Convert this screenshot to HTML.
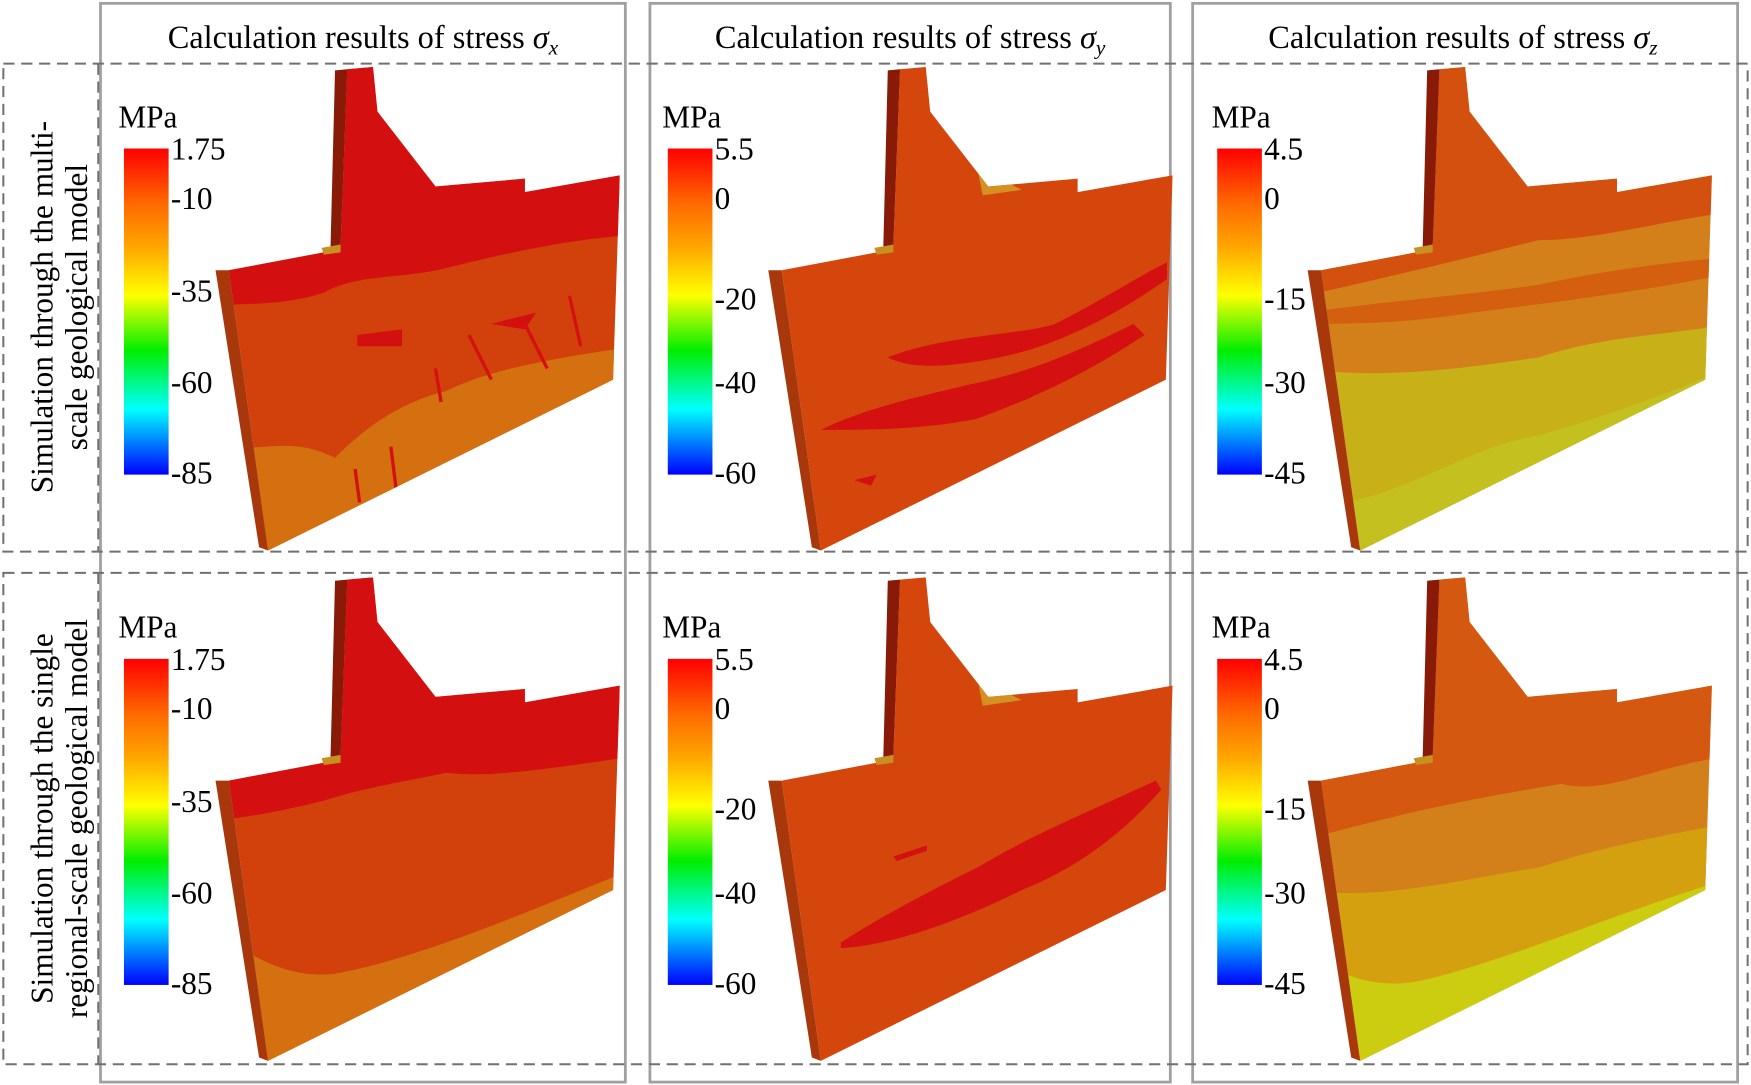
<!DOCTYPE html>
<html><head><meta charset="utf-8"><style>
html,body{margin:0;padding:0;background:#fff}
svg{display:block}
text{font-family:"Liberation Serif",serif;fill:#000}
</style></head><body>
<svg width="1751" height="1085" viewBox="0 0 1568 971.6" xmlns="http://www.w3.org/2000/svg">
<defs>
<linearGradient id="cb" x1="0" y1="0" x2="0" y2="1">
<stop offset="0" stop-color="#ff0000"/><stop offset="0.17" stop-color="#ff6a00"/><stop offset="0.3" stop-color="#ffa500"/>
<stop offset="0.45" stop-color="#ffff00"/><stop offset="0.62" stop-color="#00ee00"/><stop offset="0.8" stop-color="#00ffff"/>
<stop offset="1" stop-color="#0000ff"/></linearGradient>
<clipPath id="sh"><path d="M311,62 L334,60 L338,100 L390,167 L470,160 L470,172 L555,157 L549,340 L240,493 L205,242 L290,226 L305,220 Z"/></clipPath>
<g id="frame">
<path d="M300,63 L311,62 L305,220 L296,221 Z" fill="#8a1a08"/>
<path d="M193,242 L205,242 L240,493 L232,490 Z" fill="#a8380c"/>
<path d="M288,222 L305,219 L305,226 L290,228 Z" fill="#c89020"/>
</g>
<g id="cbar"><rect x="111" y="133" width="40" height="292" fill="url(#cb)"/>
<text x="106" y="114" font-size="28">MPa</text></g>
</defs>
<g fill="none" stroke="#a0a0a0" stroke-width="2.5">
<rect x="90" y="3" width="470" height="966"/>
<rect x="582" y="3" width="466" height="966"/>
<rect x="1068" y="3" width="488" height="966"/>
</g>
<g fill="none" stroke="#707070" stroke-width="1.8" stroke-dasharray="10,6">
<rect x="3" y="57" width="1562" height="437"/>
<rect x="3" y="513" width="1562" height="440"/>
<line x1="88" y1="57" x2="88" y2="494"/><line x1="88" y1="513" x2="88" y2="953"/>
</g>
<g font-size="29" text-anchor="middle">
<text x="325" y="43">Calculation results of stress <tspan font-style="italic">σ</tspan><tspan font-style="italic" font-size="19" dy="6">x</tspan></text>
<text x="815" y="43">Calculation results of stress <tspan font-style="italic">σ</tspan><tspan font-style="italic" font-size="19" dy="6">y</tspan></text>
<text x="1310" y="43">Calculation results of stress <tspan font-style="italic">σ</tspan><tspan font-style="italic" font-size="19" dy="6">z</tspan></text>
</g>
<g font-size="28" text-anchor="middle">
<text transform="translate(47,275) rotate(-90)">Simulation through the multi-</text>
<text transform="translate(78,275) rotate(-90)">scale geological model</text>
<text transform="translate(47,733) rotate(-90)">Simulation through the single</text>
<text transform="translate(78,733) rotate(-90)">regional-scale geological model</text>
</g>

<!-- R1C1 -->
<g>
<g clip-path="url(#sh)">
<rect x="190" y="50" width="380" height="460" fill="#d2400c"/>
<path d="M190,50 L570,50 L570,210 C500,215 440,230 400,240 C360,250 320,245 290,262 C250,275 220,270 190,275 Z" fill="#d40f0f"/>
<path d="M190,400 C240,405 260,390 300,410 C330,380 360,360 400,350 C440,330 500,320 570,310 L570,510 L190,510 Z" fill="#d4700f"/>
<path d="M320,300 L360,295 L360,310 L320,310 Z M440,290 L480,280 L470,295 Z" fill="#d40f0f"/>
<path d="M318,420 L322,450 M350,400 L355,440 M420,300 L440,340 M470,290 L490,330 M510,265 L520,310 M390,330 L395,360" stroke="#d41010" stroke-width="3"/>
</g>
<use href="#frame"/><use href="#cbar"/>
<g font-size="28"><text x="153" y="143">1.75</text><text x="153" y="187">-10</text><text x="153" y="270">-35</text><text x="153" y="352">-60</text><text x="153" y="433">-85</text></g>
</g>

<!-- R1C2 -->
<g transform="translate(495,0)">
<g clip-path="url(#sh)">
<rect x="190" y="50" width="380" height="460" fill="#d4460c"/>
<path d="M380,150 L400,160 L420,170 L385,175 Z" fill="#d49020"/>
<path d="M300,320 C350,300 420,300 450,290 C490,270 520,250 550,235 L550,250 C500,285 450,310 400,320 C350,330 320,330 300,320 Z" fill="#d41010"/>
<path d="M240,385 C280,365 330,355 370,345 C420,335 460,320 520,290 L530,300 C470,340 420,360 380,375 C330,385 280,385 240,385 Z" fill="#d41010"/>
<path d="M330,360 C370,345 410,350 430,340 L430,355 C400,370 360,370 330,360 Z M270,430 L290,425 L285,435 Z" fill="#d41010"/>
</g>
<use href="#frame"/>
</g>
<g transform="translate(487,0)"><use href="#cbar"/>
<g font-size="28"><text x="153" y="143">5.5</text><text x="153" y="187">0</text><text x="153" y="277">-20</text><text x="153" y="352">-40</text><text x="153" y="433">-60</text></g></g>

<!-- R1C3 -->
<g transform="translate(978,0)">
<g clip-path="url(#sh)">
<rect x="190" y="50" width="380" height="460" fill="#d4801a"/>
<path d="M190,50 L570,50 L570,190 C500,200 450,215 400,215 C340,230 300,240 190,265 Z" fill="#d4500f"/>
<path d="M190,330 C260,340 330,330 400,320 C460,300 520,300 570,290 L570,510 L190,510 Z" fill="#c8b018"/>
<path d="M190,450 C260,460 330,400 400,390 C470,370 520,350 570,330 L570,510 L190,510 Z" fill="#c4c020"/>
<path d="M190,280 C260,270 330,265 400,255 C470,240 520,235 570,230 L570,245 C500,260 420,270 340,280 C280,290 230,290 190,290 Z" fill="#d4600f"/>
</g>
<use href="#frame"/>
</g>
<g transform="translate(979,0)"><use href="#cbar"/>
<g font-size="28"><text x="153" y="143">4.5</text><text x="153" y="187">0</text><text x="153" y="277">-15</text><text x="153" y="352">-30</text><text x="153" y="433">-45</text></g></g>

<!-- R2C1 -->
<g transform="translate(0,457)">
<g clip-path="url(#sh)">
<rect x="190" y="50" width="380" height="460" fill="#d2400c"/>
<path d="M190,50 L570,50 L570,220 C500,230 440,240 400,235 C350,245 320,250 290,260 C250,270 220,275 190,278 Z" fill="#d40f0f"/>
<path d="M190,370 C220,400 260,420 300,415 C380,400 470,360 570,320 L570,510 L190,510 Z" fill="#d4700f"/>
</g>
<use href="#frame"/><use href="#cbar"/>
<g font-size="28"><text x="153" y="143">1.75</text><text x="153" y="187">-10</text><text x="153" y="270">-35</text><text x="153" y="352">-60</text><text x="153" y="433">-85</text></g>
</g>

<!-- R2C2 -->
<g transform="translate(495,457)">
<g clip-path="url(#sh)">
<rect x="190" y="50" width="380" height="460" fill="#d4460c"/>
<path d="M380,150 L400,160 L420,170 L385,175 Z" fill="#d49020"/>
<path d="M258,387 C300,360 340,340 380,320 C430,290 480,270 540,242 L545,250 C510,290 470,320 420,340 C360,370 300,390 258,392 Z" fill="#d41010"/>
<path d="M305,310 L335,300 L335,305 L308,314 Z" fill="#d41010"/>
</g>
<use href="#frame"/>
</g>
<g transform="translate(487,457)"><use href="#cbar"/>
<g font-size="28"><text x="153" y="143">5.5</text><text x="153" y="187">0</text><text x="153" y="277">-20</text><text x="153" y="352">-40</text><text x="153" y="433">-60</text></g></g>

<!-- R2C3 -->
<g transform="translate(978,457)">
<g clip-path="url(#sh)">
<rect x="190" y="50" width="380" height="460" fill="#d4801a"/>
<path d="M190,50 L570,50 L570,220 C500,230 460,255 420,245 C360,255 300,265 190,295 Z" fill="#d4580f"/>
<path d="M190,340 C260,350 330,330 400,320 C460,300 520,290 570,280 L570,510 L190,510 Z" fill="#d4a010"/>
<path d="M190,390 C220,420 260,430 300,420 C380,400 470,360 570,330 L570,510 L190,510 Z" fill="#cccc10"/>
</g>
<use href="#frame"/>
</g>
<g transform="translate(979,457)"><use href="#cbar"/>
<g font-size="28"><text x="153" y="143">4.5</text><text x="153" y="187">0</text><text x="153" y="277">-15</text><text x="153" y="352">-30</text><text x="153" y="433">-45</text></g></g>
</svg>
</body></html>
